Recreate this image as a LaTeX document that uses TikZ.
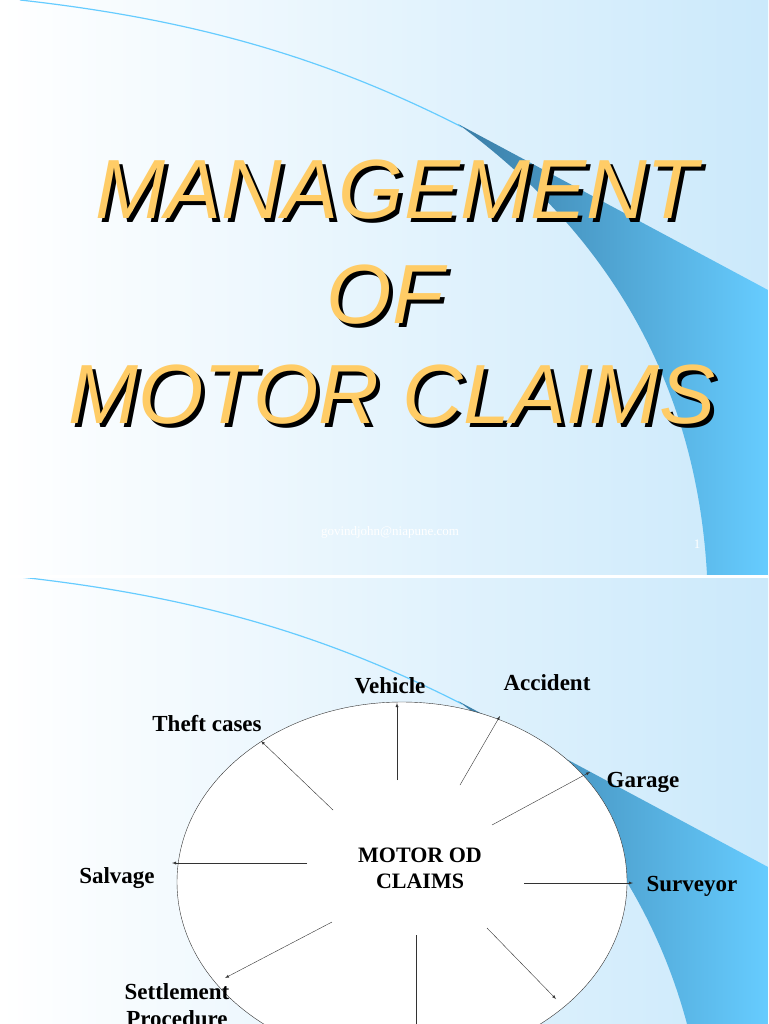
\documentclass[tikz,border=0pt]{standalone}
\usetikzlibrary{shapes.geometric}
\usepackage{fontspec}
\setmainfont{Liberation Serif}
\newfontfamily\arialf{Liberation Sans}
\begin{document}
\begin{tikzpicture}[x=1pt,y=-1pt,
  lbl/.style={font=\fontsize{23}{27}\selectfont\bfseries, align=center},
  arr/.style={-latex, thin, black!80},
  ttl/.style={font=\arialf\itshape\fontsize{84}{100}\selectfont},
]
\useasboundingbox (0,0) rectangle (768,1024);
\definecolor{bgr}{HTML}{CBE9FB}
\definecolor{swd}{HTML}{3A7DA6}
\definecolor{swl}{HTML}{66CCFF}
\definecolor{ttlc}{HTML}{FFCC66}
% slide backgrounds
\shade[left color=white,right color=bgr] (0,0) rectangle (768,575);
\shade[left color=white,right color=bgr] (0,578) rectangle (768,1024);
% swooshes
\foreach \dy in {0,577}{
  \begin{scope}[yshift=-\dy pt]
  \draw[swl, line width=1.2pt] (20,0) .. controls (200,20) and (330,60) .. (462,127);
  \shade[left color=swd,right color=swl]
    (458,124) -- (768,290) -- (768,575) -- (707,575)
    .. controls (698,410) and (630,250) .. (458,124) -- cycle;
  \end{scope}
}
\fill[white] (0,575) rectangle (768,577.5);
% title
\foreach \t/\x/\y in {MANAGEMENT/397/190, OF/385/295, MOTOR CLAIMS/392/395}{
  \node[ttl, text=black] at (\x+4,\y+4) {\t};
  \node[ttl, text=ttlc] (t\y) at (\x,\y) {\t};
}
\node[text=white, font=\fontsize{13}{15}\selectfont] (mail) at (390,532) {govindjohn@niapune.com};
\node[text=white, font=\fontsize{13}{15}\selectfont] (pg) at (697,544) {1};
% diagram
\begin{scope}
\clip (0,578) rectangle (768,1024);
\node[draw=black!80, fill=white, ellipse, minimum width=450pt, minimum height=360pt, thin] (E) at (402,882) {};
\draw[black!80, thin] (416,935) -- (416,1040);
\end{scope}
\node[lbl, font=\fontsize{22}{26}\selectfont\bfseries] (c) at (420,868) {MOTOR OD\\CLAIMS};
\coordinate (a1) at (397,780); \coordinate (b1) at (397,703);
\coordinate (a2) at (460,785); \coordinate (b2) at (500,716);
\coordinate (a3) at (333,810); \coordinate (b3) at (261,741);
\coordinate (a4) at (492,825); \coordinate (b4) at (590,772);
\coordinate (a5) at (307,863); \coordinate (b5) at (172,863);
\coordinate (a6) at (524,883); \coordinate (b6) at (633,883);
\coordinate (a7) at (332,922); \coordinate (b7) at (225,978);
\coordinate (a8) at (487,928); \coordinate (b8) at (556,999);
\foreach \i in {1,...,8}{\draw[arr] (a\i) -- (b\i);}
\node[lbl] (vehicle) at (390,686) {Vehicle};
\node[lbl] (accident) at (547,683) {Accident};
\node[lbl] (theft) at (207,724) {Theft cases};
\node[lbl] (garage) at (643,782) {Garage};
\node[lbl] (salvage) at (117,878) {Salvage};
\node[lbl] (surveyor) at (692,886) {Surveyor};
\node[lbl, anchor=north] (settle) at (177,980) {Settlement\\Procedure};
\end{tikzpicture}
\end{document}
